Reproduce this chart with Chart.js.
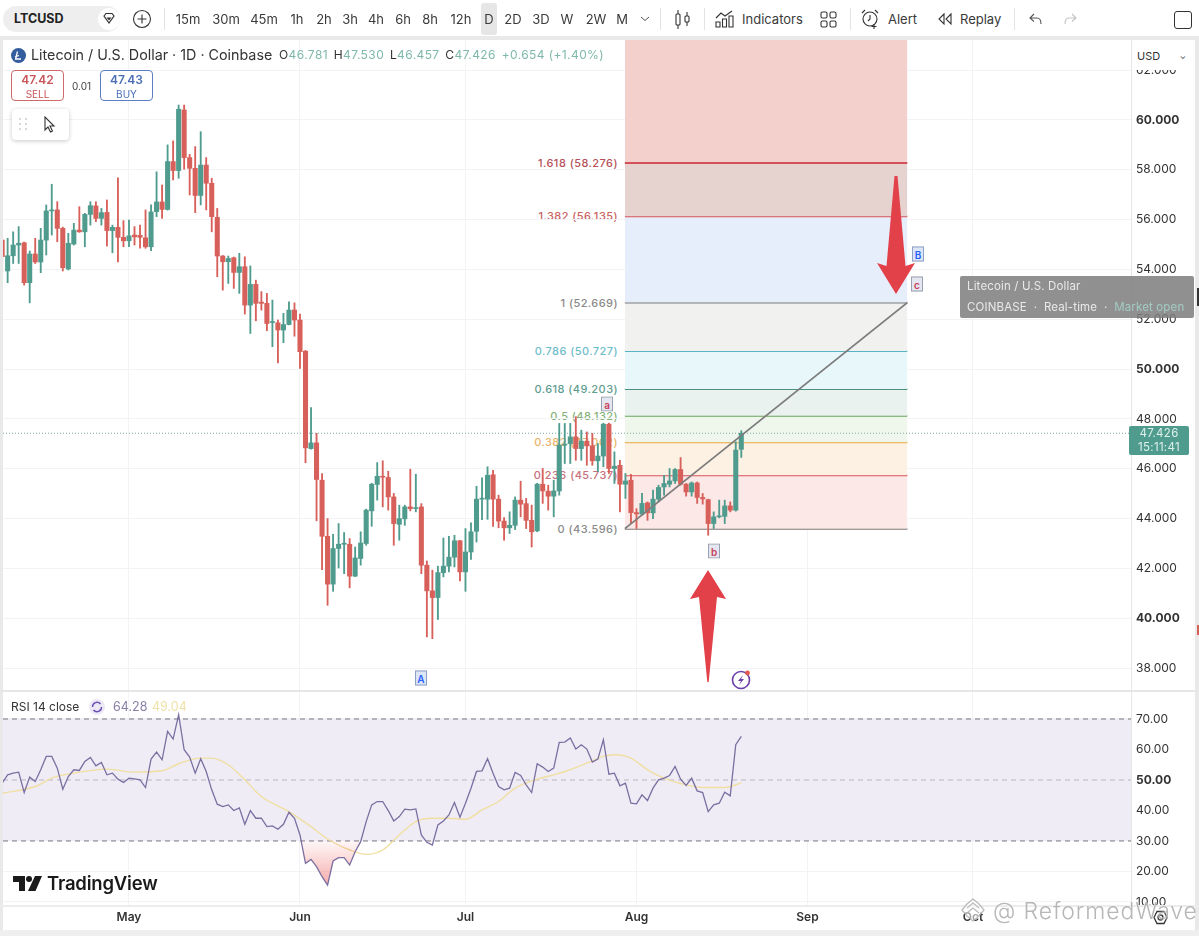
<!DOCTYPE html>
<html><head><meta charset="utf-8">
<script src="https://cdn.jsdelivr.net/npm/chart.js@4"></script>
<style>
html,body{margin:0;padding:0;background:#fff;width:1199px;height:936px;overflow:hidden;font-family:Inter,"Open Sans",sans-serif;color:#222}
#root{position:relative;width:1199px;height:936px;overflow:hidden}
canvas{position:absolute;left:0;z-index:2}
.a{position:absolute;white-space:nowrap;line-height:1}
.o{z-index:4}
.fib{z-index:1;font-size:11px;font-weight:500;letter-spacing:.45px;text-align:right;width:120px;left:498px;transform:translateY(-50%)}
.tb{top:13px;font-size:13px;color:#3a3a3a;transform:translateX(-50%);z-index:4}
.mk{z-index:4;width:12px;height:15px;line-height:14px;text-align:center;font-size:10px;font-weight:600;box-sizing:border-box;transform:translate(-50%,-50%);background:#e4e6f0;border:1px solid #9aa0b0;color:#c8405a}
.mk.u{color:#2962ff;border-color:#8ea0c8;background:#dde6f6}
</style></head><body><div id="root">
<div class="a" style="left:0;top:36px;width:1199px;height:4px;background:#e9e9e9;z-index:3"></div>
<div class="a" style="left:0;top:40px;width:3px;height:896px;background:#e9e9e9;z-index:3"></div>
<div class="a" style="left:1195px;top:40px;width:4px;height:896px;background:#e9e9e9;z-index:3"></div>
<div class="a" style="left:1197px;top:288px;width:2px;height:18px;background:#333;z-index:3"></div>
<div class="a" style="left:1197px;top:625px;width:2px;height:10px;background:#d8605a;z-index:3"></div>
<div class="a" style="left:0;top:690px;width:1199px;height:2px;background:#e6e6e6;z-index:3"></div>
<div class="a" style="left:1131px;top:906px;width:64px;height:30px;background:#fff;z-index:3"></div>
<div class="a" style="left:0;top:905px;width:1199px;height:2px;background:#ececec;z-index:3"></div>
<div class="a" style="left:0;top:930px;width:1199px;height:6px;background:#efefef;z-index:3"></div>
<svg class="a o" style="left:1153px;top:910px" width="15" height="15" fill="none" stroke="#333" stroke-width="1.300"><path d="M4 1.500h7l3 6-3 6H4l-3-6z"/><circle cx="7.500" cy="7.500" r="2.500"/></svg>

<!-- top toolbar -->
<div class="a o" style="left:3px;top:6px;width:117px;height:26px;border-radius:13px;background:#eeeeee"></div>
<div class="a o" style="left:14px;top:13px;font-size:12.5px;font-weight:700;color:#222">LTCUSD</div>
<svg class="a o" style="left:97px;top:7px" width="24" height="24"><circle cx="12" cy="12" r="11" fill="#fff"/><path d="M7 9l2-2.500h6l2 2.500-5 7z" fill="none" stroke="#333" stroke-width="1.2"/><path d="M9.500 10.500h5l-2.500 3z" fill="#333"/></svg>
<svg class="a o" style="left:132px;top:9px" width="20" height="20" fill="none" stroke="#333" stroke-width="1.100"><circle cx="10" cy="10" r="8.500"/><path d="M10 5.500v9M5.500 10h9"/></svg>
<div class="a o" style="left:164px;top:8px;width:1px;height:22px;background:#e3e3e3"></div>
<div class="a o" style="left:481px;top:3px;width:16px;height:32px;border-radius:3px;background:#e6e6e6"></div>
<svg class="a o" style="left:640px;top:15px" width="10" height="8" fill="none" stroke="#555"><path d="M1 2l4 3.500 4-3.500"/></svg>
<div class="a o" style="left:660px;top:8px;width:1px;height:22px;background:#e3e3e3"></div>
<svg class="a o" style="left:674px;top:9px" width="18" height="21" fill="none" stroke="#333" stroke-width="1.100"><rect x="2" y="5" width="4" height="11" rx="1"/><path d="M4 1v4M4 16v4"/><rect x="11" y="7" width="4" height="6" rx="1"/><path d="M13 3v4M13 13v4"/></svg>
<div class="a o" style="left:704px;top:8px;width:1px;height:22px;background:#e3e3e3"></div>
<svg class="a o" style="left:714px;top:9px" width="22" height="20" fill="none" stroke="#333" stroke-width="1.100"><path d="M2 9l5-5 4 3 7-5"/><path d="M2 18v-5h4v5zM8.500 18V10h4v8zM15 18V7h4v11z"/></svg>
<div class="a o" style="left:742px;top:13px;font-size:13px;color:#3a3a3a">Indicators</div>
<svg class="a o" style="left:820px;top:11px" width="17" height="17" fill="none" stroke="#333" stroke-width="1.100"><rect x="1" y="1" width="6" height="6" rx="1.500"/><rect x="10" y="1" width="6" height="6" rx="1.500"/><rect x="1" y="10" width="6" height="6" rx="1.500"/><rect x="10" y="10" width="6" height="6" rx="1.500"/></svg>
<div class="a o" style="left:850px;top:8px;width:1px;height:22px;background:#e3e3e3"></div>
<svg class="a o" style="left:861px;top:9px" width="20" height="21" fill="none" stroke="#333" stroke-width="1.100"><circle cx="9" cy="10" r="7"/><path d="M9 6v4l-2 2M13 15v5M10.500 17.500h5M1 4l3-3M14 1l3 3"/></svg>
<div class="a o" style="left:888px;top:13px;font-size:13px;color:#3a3a3a">Alert</div>
<svg class="a o" style="left:937px;top:12px" width="17" height="14" fill="none" stroke="#333" stroke-width="1.100"><path d="M7 2L2 7l5 5zM14 2L9 7l5 5z"/></svg>
<div class="a o" style="left:960px;top:13px;font-size:13px;color:#3a3a3a">Replay</div>
<div class="a o" style="left:1014px;top:8px;width:1px;height:22px;background:#e3e3e3"></div>
<svg class="a o" style="left:1028px;top:12px" width="15" height="14" fill="none" stroke="#555" stroke-width="1.100"><path d="M6 2L2 6l4 3.500M2 6h7c3 0 4 2 4 6"/></svg>
<svg class="a o" style="left:1063px;top:12px" width="15" height="14" fill="none" stroke="#c4c4c4" stroke-width="1.100"><path d="M9 2l4 4-4 3.500M13 6H6C3 6 2 8 2 12"/></svg>
<div class="a o" style="left:1174px;top:11px;width:16px;height:16px;border:1px solid #333;border-radius:3px"></div>

<!-- legend -->
<svg class="a o" style="left:11px;top:48px" width="15" height="15"><circle cx="7.500" cy="7.500" r="7.500" fill="#345d9d"/><path d="M6.500 3.500L5.200 8.500 4 9M5.200 8.500L8 7.500M5.200 8.500l-.6 2.500h5.400" fill="none" stroke="#fff" stroke-width="1.300"/></svg>
<div class="a o" style="left:31px;top:48px;font-size:14.3px;color:#333">Litecoin / U.S. Dollar · 1D · Coinbase</div>
<div class="a o" style="left:279px;top:49px;font-size:12px;color:#7fb8ab;letter-spacing:.4px"><span style="color:#333">O</span>46.781 <span style="color:#333;margin-left:2px">H</span>47.530 <span style="color:#333;margin-left:2px">L</span>46.457 <span style="color:#333;margin-left:2px">C</span>47.426 <span style="margin-left:2px">+0.654 (+1.40%)</span></div>
<div class="a o" style="left:11px;top:70px;width:53px;height:31px;box-sizing:border-box;border:1px solid #d0696a;border-radius:4px;background:#fff;text-align:center;color:#c9555a;font-size:12px;font-weight:600;padding-top:3px">47.42<div style="font-size:10px;font-weight:400;margin-top:3px">SELL</div></div>
<div class="a o" style="left:72px;top:81px;font-size:10px;color:#444">0.01</div>
<div class="a o" style="left:100px;top:70px;width:53px;height:31px;box-sizing:border-box;border:1px solid #5b7fc0;border-radius:4px;background:#fff;text-align:center;color:#4a6fb5;font-size:12px;font-weight:600;padding-top:3px">47.43<div style="font-size:10px;font-weight:400;margin-top:3px">BUY</div></div>
<div class="a o" style="left:12px;top:109px;width:57px;height:31px;background:#fff;border-radius:4px;box-shadow:0 1px 4px rgba(0,0,0,.22)"></div>
<svg class="a o" style="left:18px;top:116px" width="44" height="18"><g fill="#cfcfcf"><circle cx="2" cy="3" r="1.100"/><circle cx="8" cy="3" r="1.100"/><circle cx="2" cy="8" r="1.100"/><circle cx="8" cy="8" r="1.100"/><circle cx="2" cy="13" r="1.100"/><circle cx="8" cy="13" r="1.100"/></g><path d="M27 1l0 13 3-3 2.500 5 2-1-2.500-5h4z" fill="#fff" stroke="#333" stroke-width="1.100"/></svg>

<!-- USD selector -->
<div class="a o" style="left:1133px;top:45px;width:59px;height:25px;background:#fff;border-radius:3px;font-size:11px;line-height:22px;padding-left:4px;box-sizing:border-box;color:#333">USD<span style="position:absolute;right:6px;top:0;font-size:8px;color:#444">⌄</span></div>

<!-- tooltip -->
<div class="a o" style="left:960px;top:276px;width:234px;height:42px;background:rgba(125,125,125,.85);border-radius:2px;color:#e9e9e9;font-size:11.500px;letter-spacing:.15px">
  <div class="a" style="left:7px;top:5px">Litecoin / U.S. Dollar</div>
  <div class="a" style="left:7px;top:26px">COINBASE &nbsp;·&nbsp; Real-time &nbsp;·&nbsp; <span style="color:#a3cbc3">Market open</span></div>
</div>

<!-- last price tag -->
<div class="a o" style="left:1129px;top:426px;width:60px;height:29px;background:#4f9c8e;border-radius:2px;color:#dff0ec;font-size:11.500px;text-align:center;letter-spacing:.3px;padding-top:2px;box-sizing:border-box"><div style="margin-bottom:2px">47.426</div><div>15:11:41</div></div>

<!-- markers -->
<div class="a mk" style="left:607px;top:404px">a</div>
<div class="a mk" style="left:714px;top:551px">b</div>
<div class="a mk" style="left:917px;top:284px">c</div>
<div class="a mk u" style="left:918px;top:254px">B</div>
<div class="a mk u" style="left:421px;top:678px">A</div>

<!-- arrows -->
<svg class="a" style="left:0;top:0;z-index:4;pointer-events:none" width="1199" height="936">
  <path d="M894.500 176L897.500 176 905.500 266 915 263 896 294 877 263 886.500 266z" fill="#e2414a"/>
  <path d="M708 570L726 599 717 597 708.700 682 707.300 682 699 597 690 599z" fill="#e2414a"/>
  <circle cx="741" cy="680" r="8.500" fill="#fff" stroke="#6b3fa8" stroke-width="1.600"/>
  <path d="M743 675l-5 6h3l-2 4 5-6h-3z" fill="#6b3fa8"/>
  <circle cx="747.500" cy="673" r="2.400" fill="#e2574f"/>
</svg>

<!-- RSI legend -->
<div class="a o" style="left:11px;top:701px;font-size:12px;color:#333">RSI 14 close</div>
<svg class="a o" style="left:89px;top:699px" width="16" height="16" fill="none"><circle cx="8" cy="8" r="8" fill="#ece8f6"/><path d="M3.500 8a4.500 4.500 0 0 1 8-3M12.500 8a4.500 4.500 0 0 1-8 3" stroke="#6a4fb0" stroke-width="1.400"/></svg>
<div class="a o" style="left:113px;top:701px;font-size:12.500px;color:#8a80a8">64.28</div>
<div class="a o" style="left:152px;top:701px;font-size:12.500px;color:#efe2a8">49.04</div>

<!-- logo -->
<svg class="a o" style="left:13px;top:876px" width="29" height="15" fill="#1a1a1a"><path d="M0 0h12v15H6V6H0z"/><circle cx="16" cy="3" r="3"/><path d="M22 0h7l-6.500 15H15z"/></svg>
<div class="a o" style="left:47px;top:874px;font-size:18.500px;font-weight:600;color:#1a1a1a;letter-spacing:-.2px">TradingView</div>

<!-- watermark -->
<svg class="a" style="left:960px;top:897px;z-index:5" width="26" height="26" fill="rgba(255,255,255,.55)" stroke="rgba(175,175,175,.85)" stroke-width="1.300"><path d="M13 2l6 5 5 6-5 6-6 5-6-5-5-6 5-6z"/><path d="M7 11l6-5 6 5M7 16l6-5 6 5" fill="none"/></svg>
<div class="a" style="left:993px;top:900px;z-index:5;font-size:23px;font-weight:300;letter-spacing:.9px;color:rgba(165,165,165,.8);text-shadow:0 0 2px rgba(255,255,255,.7)">@ ReformedWave</div>

<canvas id="price" width="1199" height="650" style="top:40px"></canvas>
<canvas id="rsiChart" width="1199" height="244" style="top:692px"></canvas>
</div>
<script>
// ---------- data ----------
const opens=[55.18,53.94,54.55,54.98,55.07,53.47,54.62,54.30,55.18,56.35,
56.39,55.65,54.02,55.02,55.58,55.51,56.21,56.55,56.05,56.29,
55.56,55.69,55.29,55.15,55.38,55.37,55.27,54.91,56.32,56.71,
56.41,58.33,57.97,60.40,58.49,58.06,56.97,58.19,57.46,56.09,
54.54,54.31,54.47,53.88,54.11,52.57,53.40,52.69,52.64,51.87,
51.86,51.57,51.79,52.37,51.97,50.72,46.81,47.04,45.54,43.29,
41.37,42.80,42.97,42.97,41.69,42.40,43.00,44.31,45.37,45.70,
45.65,44.87,43.77,43.99,44.47,44.40,44.47,42.13,41.10,40.83,
41.83,42.09,42.45,43.11,41.86,42.66,43.49,44.78,44.78,45.76,
44.78,43.90,43.63,43.73,44.74,44.60,43.93,43.51,45.38,45.10,
44.90,45.11,46.95,47.01,47.28,46.81,47.11,46.92,46.32,46.51,
47.79,46.01,46.14,45.38,45.54,44.24,44.18,44.63,44.23,44.78,
45.27,45.38,45.51,45.97,45.38,45.07,45.43,44.85,44.76,43.80,
44.07,44.09,44.51,44.34,46.781];
const highs=[55.38,55.25,55.51,55.72,55.10,54.74,55.25,55.65,56.59,57.42,
56.72,55.70,55.45,55.85,56.52,56.25,56.72,56.72,56.45,56.79,
55.78,57.68,55.96,55.98,55.72,55.78,56.39,56.59,57.92,57.39,
59.00,59.16,60.60,60.60,58.62,58.93,59.53,58.49,57.66,56.45,
54.56,54.54,54.50,54.65,54.51,54.14,53.57,53.11,53.04,52.77,
51.97,52.24,52.70,52.66,52.21,50.75,48.46,47.42,45.81,44.00,
43.37,43.80,43.44,43.20,42.86,43.47,44.38,45.42,46.25,46.32,
45.90,45.01,44.54,44.54,45.98,45.78,44.60,42.30,41.93,42.09,
43.22,43.29,43.33,43.13,43.60,43.83,45.30,45.64,46.08,45.94,
44.94,44.04,44.27,44.87,45.50,44.81,44.54,45.42,46.01,45.34,
45.54,47.82,47.82,47.82,48.09,47.55,47.48,47.42,47.01,47.83,
47.83,46.68,46.34,45.81,45.78,44.40,45.01,44.67,45.14,45.34,
45.74,46.01,46.01,46.45,45.41,45.47,45.47,45.01,44.78,44.27,
44.74,44.74,44.67,47.08,47.530];
const lows=[53.91,53.47,54.24,54.24,53.37,52.66,54.24,53.87,54.58,55.38,
55.11,53.94,53.98,54.98,55.49,54.91,55.78,55.92,55.78,54.94,
54.67,54.30,54.91,54.91,54.98,54.85,54.85,54.75,56.12,56.05,
56.38,57.59,57.66,58.02,56.99,56.28,56.59,56.39,55.51,53.71,
53.17,53.44,53.24,53.04,52.21,51.43,51.94,52.37,51.54,50.90,
50.25,51.06,51.77,51.32,50.03,46.24,46.79,43.91,41.95,40.52,
41.08,42.02,41.79,41.22,41.67,42.13,42.93,43.69,44.74,44.47,
44.34,42.93,43.13,43.73,44.31,44.27,41.79,39.25,39.18,39.95,
41.66,41.86,42.06,41.50,41.08,42.36,43.06,43.96,43.97,43.69,
43.63,43.13,43.40,43.56,44.07,43.60,42.86,43.47,44.61,44.34,
44.07,44.94,46.21,46.21,46.34,46.34,46.14,46.14,45.88,46.08,
45.81,45.41,44.27,44.81,43.80,43.60,44.14,43.93,44.00,44.67,
44.94,45.27,45.41,45.34,44.90,44.90,44.61,44.58,43.33,43.60,
44.03,43.80,44.27,44.30,46.457];
const closes=[54.51,54.55,54.98,55.05,53.47,54.62,54.30,55.18,56.35,56.39,
55.65,54.07,55.05,55.58,55.51,56.21,56.56,56.05,56.28,55.56,
55.69,55.29,55.15,55.35,55.31,55.29,54.91,56.31,56.71,56.41,
58.33,57.97,60.43,58.49,58.06,56.97,58.19,57.46,56.12,54.54,
54.31,54.44,53.88,54.11,52.57,53.40,52.64,52.64,51.83,51.90,
51.57,51.79,52.37,51.97,50.70,46.84,47.04,45.57,43.29,41.37,
42.80,42.97,43.00,41.69,42.42,43.02,44.34,45.38,45.70,45.66,
44.87,43.80,44.00,44.47,44.40,44.44,42.13,41.10,40.83,41.83,
42.09,42.45,43.11,41.86,42.66,43.47,44.78,44.81,45.74,44.78,
43.90,43.63,43.73,44.74,44.58,43.93,43.47,45.38,45.11,44.90,
45.11,46.95,46.97,47.28,46.81,47.11,46.92,46.32,46.51,47.79,
46.01,46.10,45.38,45.51,44.24,44.19,44.61,44.23,44.78,45.25,
45.41,45.51,45.97,45.38,45.07,45.43,44.85,44.79,43.80,44.07,
44.10,44.51,44.34,46.75,47.426];
const rsiValues=[48.96,51.70,52.24,52.57,45.89,50.93,49.50,53.34,57.72,57.72,
53.89,46.98,51.15,53.34,53.12,56.08,57.39,54.65,55.75,51.69,
52.24,50.27,49.17,50.60,50.38,50.05,47.53,56.84,59.15,56.63,
65.94,63.42,71.42,59.91,57.50,52.24,56.95,52.79,46.76,42.05,
41.28,41.83,39.97,40.85,35.48,39.97,37.45,37.45,34.71,34.93,
33.83,35.48,39.42,37.45,31.97,22.65,23.97,21.56,18.27,15.53,
23.42,24.52,24.52,22.11,26.49,29.78,36.35,41.83,42.93,42.93,
39.97,36.57,37.99,40.41,40.19,40.52,31.97,29.56,28.68,35.26,
36.57,38.54,42.60,37.78,42.38,47.31,52.79,53.01,56.95,52.24,
47.86,46.76,47.31,52.46,51.48,48.41,45.89,55.31,54.22,52.79,
53.89,62.32,62.43,63.75,60.13,61.56,60.13,55.86,56.84,63.20,
51.91,52.24,48.08,48.96,42.38,42.16,45.12,43.26,47.31,50.05,
50.60,51.48,54.43,50.27,48.19,50.60,46.43,45.89,39.64,41.83,
42.38,45.99,44.79,61.56,64.28];
const smaDays=[0,6,9,13,19,24,29,32,36,38,41,44,47,52,56,59,63,66,69,72,75,78,81,84,87,90,93,97,100,102,106,109,111,114,117,120,124,127,131,134];
const smaValues=[45.67,47.86,50.60,52.24,53.56,52.57,53.01,55.31,57.17,57.17,54.98,50.05,44.57,39.64,34.71,30.65,27.04,25.61,27.04,31.97,36.35,37.45,37.45,37.12,40.19,42.93,47.31,50.27,51.69,52.79,55.53,57.72,58.27,57.17,53.34,50.60,48.41,47.53,47.53,49.04];
const monthDays=[23,54,84,115,146,176];
const monthNames=['May','Jun','Jul','Aug','Sep','Oct'];
const intervalNames=['15m','30m','45m','1h','2h','3h','4h','6h','8h','12h','D','2D','3D','W','2W','M'];
const fibRatios=['1.618','1.382','1','0.786','0.618','0.5','0.382','0.236','0'];
const fibPrices=[58.276,56.135,52.669,50.727,49.203,48.132,47.062,45.737,43.596];
const fibLineColors=['#d2505a','#d9565a','#7a7a7a','#58b4c4','#4b8f7c','#6aa55c','#eba73c','#d9505a','#7a7a7a'];
const fibTextColors=['#b5505a','#c9625f','#8a8a8a','#6fbccb','#5f9d90','#86b27a','#e9b36b','#c9707a','#8a8a8a'];
const fibFills=['#e6d3d0','#e6edfb','#f1f1f0','#e8f7fa','#e9f2ee','#eff6ec','#fdf1e4','#fce8e6'];
const fibTopFill='#f3d0cc';
const fibStartDay=112.9, fibEndDay=164.1;
const lastPrice=47.426;
const rsiGuides=[70,50,30];

// ---------- shared ----------
Chart.defaults.font.family='Inter, "Open Sans", sans-serif';
Chart.defaults.animation=false;
const UP='#4f9c8e',DOWN='#d8605a',GRID='#f3f3f5';
const xMin=0.16,xMax=204.65,yMin=37.12,yMax=63.21;
const days=opens.map((_,i)=>i);
const seg=(a,b,y)=>[{x:a,y},{x:b,y}];
const monthAxis=(showLabels,h)=>({
  type:'linear',min:xMin,max:xMax,offset:false,
  afterBuildTicks:s=>{s.ticks=monthDays.map(value=>({value}));},
  afterFit:s=>{s.height=h;s.paddingLeft=0;s.paddingRight=0;},
  grid:{color:GRID,drawTicks:false,offset:false},border:{display:false},
  ticks:{display:showLabels,autoSkip:false,maxRotation:0,padding:5,color:'#333',
    font:{size:12,weight:'600'},
    callback:v=>monthNames[monthDays.indexOf(v)]??''}
});
const valueAxis=(min,max,step,digits,boldEvery)=>({
  type:'linear',position:'right',min,max,
  afterFit:s=>{s.width=68;s.paddingTop=0;s.paddingBottom=0;},
  grid:{color:GRID,drawTicks:false},
  border:{display:true,color:'#e6e6e6'},
  ticks:{stepSize:step,includeBounds:false,padding:5,color:'#333',autoSkip:false,
    callback:v=>v.toFixed(digits),
    font:c=>({size:12,weight:(c.tick&&c.tick.value%boldEvery===0)?'bold':'normal'})}
});
const common={type:'bar',responsive:false};

// ---------- price pane ----------
const colors=days.map(i=>closes[i]>=opens[i]?UP:DOWN);
const fibSets=[];
fibSets.push({type:'line',data:seg(fibStartDay,fibEndDay,yMax),borderWidth:0,pointRadius:0,
  fill:{target:{value:fibPrices[0]}},backgroundColor:fibTopFill,order:12});
fibPrices.forEach((p,k)=>{
  const set={type:'line',data:seg(fibStartDay,fibEndDay,p),borderColor:fibLineColors[k],borderWidth:2,pointRadius:0,order:10};
  if(k<fibFills.length){set.fill={target:{value:fibPrices[k+1]}};set.backgroundColor=fibFills[k];}
  fibSets.push(set);
});
const priceChart=new Chart(document.getElementById('price'),{...common,
  data:{datasets:[
    ...fibSets,
    {type:'line',data:seg(xMin,xMax,lastPrice),borderColor:'#7fa8a0',borderWidth:1,borderDash:[1,2],pointRadius:0,order:8},
    {type:'bar',data:days.map(i=>({x:i,y:[lows[i],highs[i]]})),backgroundColor:colors,barThickness:1.2,grouped:false,order:5},
    {type:'bar',data:days.map(i=>({x:i,y:[opens[i],closes[i]]})),backgroundColor:colors,barThickness:4.4,minBarLength:1,grouped:false,order:4},
    {type:'line',data:[{x:fibStartDay,y:fibPrices[8]},{x:fibEndDay,y:fibPrices[2]}],borderColor:'#7c7c7c',borderWidth:1.8,pointRadius:0,order:1}
  ]},
  options:{responsive:false,animation:false,layout:{padding:{left:3,right:0,top:0,bottom:0}},
    plugins:{legend:{display:false},tooltip:{enabled:false}},events:[],
    scales:{x:monthAxis(false,0),y:valueAxis(yMin,yMax,2,3,10)}}
});
// fib labels, placed through the price scale (sit under the transparent canvas)
const root=document.getElementById('root');
fibPrices.forEach((p,k)=>{
  const d=document.createElement('div');d.className='a fib';
  d.textContent=fibRatios[k]+' ('+p.toFixed(3)+')';
  d.style.top=(40+priceChart.scales.y.getPixelForValue(p))+'px';
  d.style.color=fibTextColors[k];
  root.appendChild(d);
});
const intervalX=[188,226,264,297,324,350,376,403,430,461,489,513,541,567,596,622];
intervalNames.forEach((t,k)=>{
  const d=document.createElement('div');d.className='a tb';d.textContent=t;d.style.left=intervalX[k]+'px';
  root.appendChild(d);
});

// ---------- RSI pane ----------
const rsiCanvas=document.getElementById('rsiChart');
const under=rsiCanvas.getContext('2d').createLinearGradient(0,148,0,195);
under.addColorStop(0,'rgba(240,90,90,.04)');
under.addColorStop(1,'rgba(236,80,80,.5)');
new Chart(rsiCanvas,{...common,
  data:{datasets:[
    {type:'line',data:seg(xMin,xMax,rsiGuides[0]),borderColor:'#77767f',borderWidth:1,borderDash:[5,4],pointRadius:0,
      fill:{target:{value:rsiGuides[2]}},backgroundColor:'#efecf6',order:10},
    {type:'line',data:seg(xMin,xMax,rsiGuides[1]),borderColor:'rgba(120,120,130,.45)',borderWidth:1,borderDash:[5,4],pointRadius:0,order:9},
    {type:'line',data:seg(xMin,xMax,rsiGuides[2]),borderColor:'#77767f',borderWidth:1,borderDash:[5,4],pointRadius:0,order:9},
    {type:'line',data:smaDays.map((d,k)=>({x:d,y:smaValues[k]})),borderColor:'#f0dfa0',borderWidth:1.4,pointRadius:0,cubicInterpolationMode:'monotone',order:3},
    {type:'line',data:days.map(i=>({x:i,y:rsiValues[i]})),borderColor:'#7a6fa0',borderWidth:1.3,pointRadius:0,
      fill:{target:{value:rsiGuides[2]},above:'rgba(0,0,0,0)',below:under},order:2}
  ]},
  options:{responsive:false,animation:false,layout:{padding:{left:3,right:0,top:0,bottom:0}},
    plugins:{legend:{display:false},tooltip:{enabled:false}},events:[],
    scales:{x:monthAxis(true,31),y:valueAxis(9,78.85,10,2,50)}}
});
</script></body></html>
